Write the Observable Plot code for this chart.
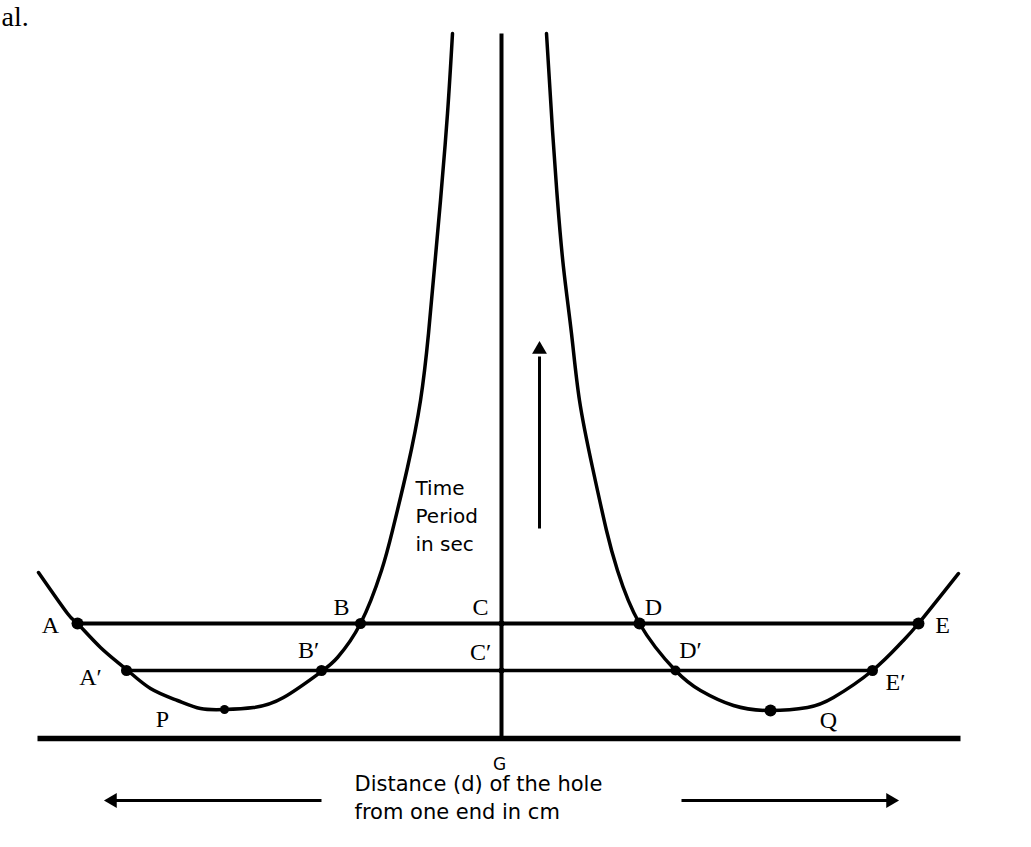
<!DOCTYPE html>
<html>
<head>
<meta charset="utf-8">
<script src="https://cdn.jsdelivr.net/npm/d3@7"></script>
<script src="https://cdn.jsdelivr.net/npm/@observablehq/plot@0.6"></script>
<style>
  body { margin: 0; background: #fff; }
  #chart svg { display: block; background: #fff; }
</style>
</head>
<body>
<div id="chart"></div>
<script>
// distance from G (d) and time period (T)
const leftD = [-49, -54, -61, -67, -73, -81, -94, -109, -120, -141, -164, -180, -218, -248, -277, -301, -324, -351, -375, -401, -424, -434, -463];
const leftT = [705, 625, 538, 471, 405, 338, 271, 208, 168, 115, 81, 67, 41, 31, 29, 30, 38, 50, 69, 91, 115, 125, 166];
const rightD = [45, 51, 56, 62, 70, 78, 91, 105, 116, 138, 174, 199, 232, 269, 306, 332, 371, 399, 417, 457];
const rightT = [705, 608, 538, 471, 405, 338, 271, 208, 168, 115, 68, 48, 33, 28, 31, 41, 68, 95, 115, 165];

// marked points
const pointNames = ["A", "B", "C", "D", "E", "A′", "B′", "C′", "D′", "E′", "P", "Q"];
const pointD = [-424, -141, 0, 138, 417, -375, -180, 0, 174, 371, -277, 269];
const pointT = [115, 115, 115, 115, 115, 68, 68, 68, 68, 68, 29, 28];
const pointR = [6, 5.5, 3, 6, 6, 5.5, 5.5, 3, 5, 5.5, 4.5, 6];

// letters next to the points
const labelD = [-451, -160, -21, 152, 441, -411, -193, -21, 189, 394, -339, 327];
const labelT = [113, 131, 131, 131, 113, 61, 88, 86, 88, 56, 19, 18];

const leftCurve = leftD.map((d, i) => ({d, T: leftT[i]}));
const rightCurve = rightD.map((d, i) => ({d, T: rightT[i]}));
const points = pointNames.map((name, i) => ({name, d: pointD[i], T: pointT[i], r: pointR[i], lab: labelD[i], labT: labelT[i]}));

// straight segments: base line, axis, AE and A'E'
const segments = [
  {x1: -464, y1: 0, x2: 459, y2: 0, w: 5.5},
  {x1: 0, y1: 0, x2: 0, y2: 705, w: 4},
  {x1: -424, y1: 115, x2: 417, y2: 115, w: 4},
  {x1: -375, y1: 68, x2: 371, y2: 68, w: 3.5}
];

// arrows: shafts and heads
const shafts = [
  {x1: 38, y1: 210, x2: 38, y2: 382},
  {x1: -180, y1: -62, x2: -390, y2: -62},
  {x1: 180, y1: -62, x2: 390, y2: -62}
];
const heads = [
  {x: 38, y: 389, rot: 0},
  {x: -389, y: -62, rot: -90},
  {x: 389, y: -62, rot: 90}
];

const chart = Plot.plot({
  width: 1031,
  height: 847,
  margin: 0,
  x: {domain: [-501, 530], axis: null},
  y: {domain: [-109, 738], axis: null},
  r: {type: "identity"},
  marks: [
    Plot.line(leftCurve, {x: "d", y: "T", curve: "natural", stroke: "#000", strokeWidth: 3.5}),
    Plot.line(rightCurve, {x: "d", y: "T", curve: "natural", stroke: "#000", strokeWidth: 3.5}),
    Plot.link(segments, {x1: "x1", y1: "y1", x2: "x2", y2: "y2", stroke: "#000", strokeWidth: d => d.w}),
    Plot.link(shafts, {x1: "x1", y1: "y1", x2: "x2", y2: "y2", stroke: "#000", strokeWidth: 3}),
    Plot.dot(heads, {x: "x", y: "y", rotate: "rot", symbol: "triangle", r: 5.5, fill: "#000"}),
    Plot.dot(points, {x: "d", y: "T", r: "r", fill: "#000"}),
    Plot.text(points, {x: "lab", y: "labT", text: "name", fontFamily: "Liberation Serif", fontSize: 24, fill: "#000"}),
    Plot.text(["Time", "Period", "in sec"], {x: -86, y: [250, 222, 194], text: d => d, textAnchor: "start",
      fontFamily: "DejaVu Sans", fontSize: 20, fill: "#000"}),
    Plot.text(["G"], {x: -2, y: -26, text: d => d, fontFamily: "DejaVu Sans", fontSize: 17, fill: "#000"}),
    Plot.text(["Distance (d) of the hole", "from one end in cm"], {x: -147, y: [-46, -74], text: d => d,
      textAnchor: "start", fontFamily: "DejaVu Sans", fontSize: 21, fill: "#000"}),
    Plot.text(["al."], {x: -500, y: 713, text: d => d, textAnchor: "start", lineAnchor: "bottom",
      fontFamily: "Liberation Serif", fontSize: 28, fill: "#000"})
  ]
})
d3.select('#chart').append(() => chart)
</script>
</body>
</html>
